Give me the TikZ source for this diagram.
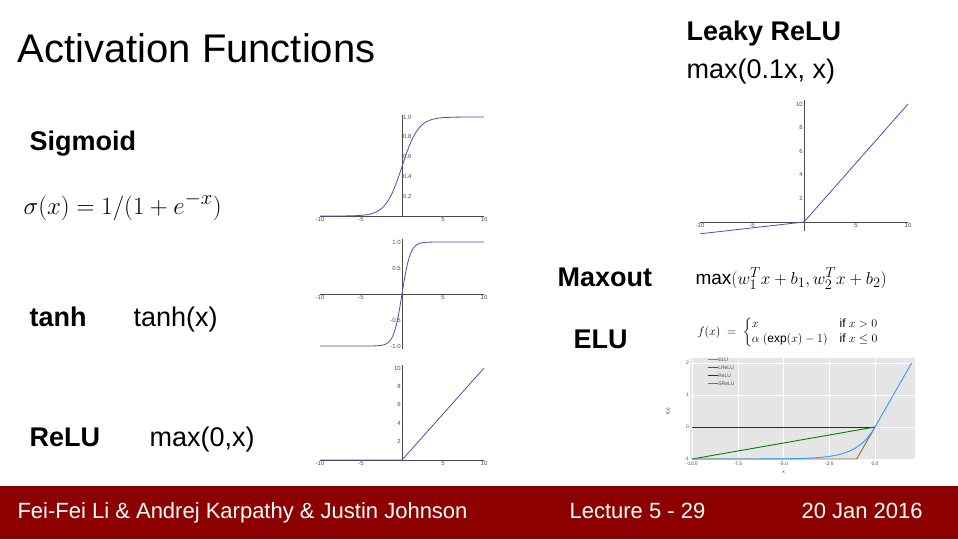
\documentclass[tikz,border=0pt]{standalone}
\usepackage{amsmath}
\usepackage{fontspec}
\setmainfont{Liberation Sans}
\newcommand\elufn{$f(x)\;=\;\begin{cases}x & \text{if } x>0\\ \alpha\;(\exp(x)-1) & \text{if } x\le 0\end{cases}$}
\begin{document}
\begin{tikzpicture}[x=1pt,y=-1pt,
  big/.style={anchor=base west,font=\fontsize{27}{30}\selectfont},
  bigb/.style={big,font=\fontsize{27}{30}\selectfont\bfseries},
  tick/.style={font=\fontsize{6}{6}\selectfont,text=black!70,inner sep=1pt},
  curve/.style={draw=blue!40!gray,line width=0.8pt},
  foot/.style={anchor=base west,text=white,font=\fontsize{22}{24}\selectfont}]
\useasboundingbox (0,0) rectangle (958,539);
\fill[white] (0,0) rectangle (958,539);
\node[anchor=base west,font=\fontsize{40}{44}\selectfont] (title) at (14,62) {Activation Functions};
\node[bigb] (sig) at (26,150) {Sigmoid};
\node[anchor=base west,font=\fontsize{30}{32}\selectfont] (sigf) at (20,214) {$\sigma(x)=1/(1+e^{-x})$};
\node[bigb] (tanh) at (26,326) {tanh};
\node[big] (tanhf) at (130,326) {tanh(x)};
\node[bigb] (relu) at (26,446) {ReLU};
\node[big] (reluf) at (146,446) {max(0,x)};
\node[bigb] (leaky) at (683,40) {Leaky ReLU};
\node[big] (leakyf) at (683,78) {max(0.1x, x)};
\node[bigb] (maxout) at (554,286) {Maxout};
\node[anchor=base west,font=\fontsize{19}{20}\selectfont] (maxf) at (692,284) {$\max(w_1^Tx+b_1, w_2^Tx+b_2)$};
\node[bigb] (elu) at (570,348) {ELU};
\node[anchor=west,font=\fontsize{12}{13}\selectfont] (eluf) at (694,332) {\elufn};
% sigmoid plot
\begin{scope}[shift={(402,216)},xscale=8.2,yscale=99]
\draw[black!70,line width=0.4pt] (-10,0) -- (10,0) (0,0) -- (0,-1.02);
\foreach \t in {-10,-5,5,10}{\node[tick,below] at (\t,0) {\t};}
\foreach \t in {0.2,0.4,0.6,0.8,1.0}{\node[tick,right] at (0,-\t) {\t};}
\draw[curve,domain=-10:10,samples=80] plot (\x,{-1/(1+exp(-max(-9,min(9,\x))))});
\end{scope}
% tanh
\begin{scope}[shift={(402,294)},xscale=8.2,yscale=52]
\draw[black!70,line width=0.4pt] (-10,0) -- (10,0) (0,1.05) -- (0,-1.05);
\foreach \t in {-10,-5,5,10}{\node[tick,below] at (\t,0) {\t};}
\foreach \t in {0.5,1.0}{\node[tick,left] at (0,-\t) {\t};\node[tick,left] at (0,\t) {-\t};}
\draw[curve,domain=-10:10,samples=80] plot (\x,{1-2/(1+exp(-2*max(-4.5,min(4.5,\x))))});
\end{scope}
% relu
\begin{scope}[shift={(402,460)},xscale=8.2,yscale=9.2]
\draw[black!70,line width=0.4pt] (-10,0) -- (10,0) (0,0) -- (0,-10.3);
\foreach \t in {-10,-5,5,10}{\node[tick,below] at (\t,0) {\t};}
\foreach \t in {2,4,6,8,10}{\node[tick,left] at (0,-\t) {\t};}
\draw[curve] (-10,0) -- (0,0) -- (10,-10);
\end{scope}
% leaky
\begin{scope}[shift={(804,222)},xscale=10.4,yscale=11.8]
\draw[black!70,line width=0.4pt] (-10,0) -- (10,0) (0,0.8) -- (0,-10.3);
\foreach \t in {-10,-5,5,10}{\node[tick,below] at (\t,0) {\t};}
\foreach \t in {2,4,6,8,10}{\node[tick,left] at (0,-\t) {\t};}
\draw[curve] (-10,1) -- (0,0) -- (10,-10);
\end{scope}
% ELU plot
\fill[black!10] (690,358) rectangle (915,460);
\begin{scope}[shift={(875,427)},xscale=18.3,yscale=32]
\foreach \t in {-10,-7.5,-5,-2.5,0}{\draw[white,line width=0.5pt] (\t,1.05) -- (\t,-2.15);}
\foreach \t in {-1,0,1,2}{\draw[white,line width=0.5pt] (-10.1,-\t) -- (2.2,-\t);}
\foreach \t/\l in {-10/-10.0,-7.5/-7.5,-5/-5.0,-2.5/-2.5,0/0.0}{\node[tick,font=\fontsize{5}{5}\selectfont,below] at (\t,1.05) {\l};}
\foreach \t in {-1,0,1,2}{\node[tick,font=\fontsize{5}{5}\selectfont,left] at (-10.1,-\t) {\t};}
\node[tick,font=\fontsize{5}{5}\selectfont] at (-5,1.4) {x};
\node[tick,font=\fontsize{5}{5}\selectfont,rotate=90] at (-11.3,-0.5) {f(x)};
\draw[red!60!black,line width=0.9pt] (-10,0) -- (0,0);
\draw[green!50!black,line width=0.9pt] (-10,1) -- (0,0);
\draw[brown!80!black,line width=0.9pt] (-10,1) -- (-1,1) -- (0,0);
\draw[blue!50!cyan!80!white,line width=0.9pt,domain=-10:0,samples=60] plot (\x,{-(exp(\x)-1)}) -- (2,-2);
\foreach \c/\l/\yy in {blue!50!cyan!80!white/ELU/-2.1,green!50!black/LReLU/-1.85,red!60!black/ReLU/-1.6,brown!80!black/SReLU/-1.35}{
 \draw[\c,line width=0.9pt] (-9.1,\yy) -- (-8.6,\yy);
 \node[tick,font=\fontsize{5}{5}\selectfont,anchor=west,inner sep=0.5pt] at (-8.6,\yy) {\l};}
\end{scope}
% footer
\fill[red!55!black] (0,486) rectangle (958,539);
\node[foot] (f1) at (14,518) {Fei-Fei Li \& Andrej Karpathy \& Justin Johnson};
\node[foot] (f2) at (566,518) {Lecture 5 - 29};
\node[foot] (f3) at (798,518) {20 Jan 2016};
\end{tikzpicture}
\end{document}
